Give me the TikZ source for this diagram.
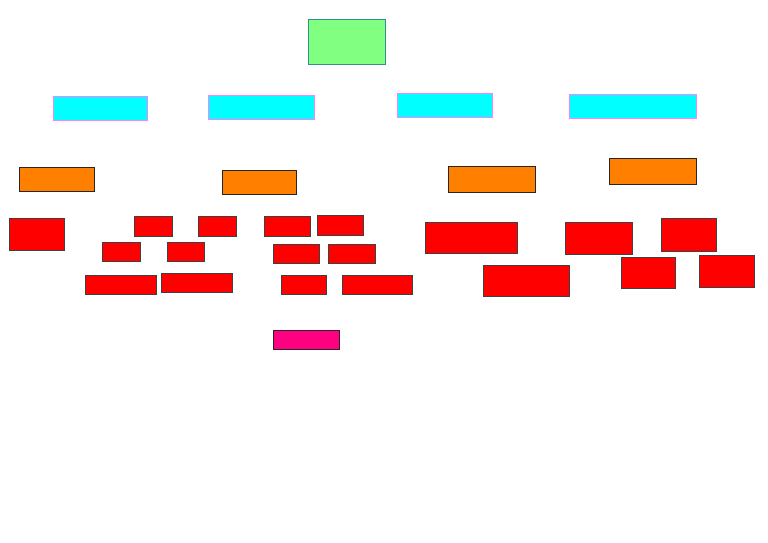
\documentclass[tikz,border=0pt]{standalone}
\usepackage{tikz}
\usetikzlibrary{shapes,positioning}
\definecolor{rootfill}{HTML}{80FF80}
\definecolor{rootline}{HTML}{2E9090}
\definecolor{catfill}{HTML}{00FFFF}
\definecolor{catline}{HTML}{FF80FF}
\definecolor{subfill}{HTML}{FF8000}
\definecolor{leaffill}{HTML}{FF0000}
\definecolor{notefill}{HTML}{FF0080}
\tikzset{
box/.style = {rectangle, inner sep=0pt, outer sep=0pt, anchor=north west, line width=0.9pt},
rootbox/.style = {box, draw=rootline, fill=rootfill},
catbox/.style = {box, draw=catline, fill=catfill},
subbox/.style = {box, draw=black!85, fill=subfill},
leafbox/.style = {box, draw=black!75, fill=leaffill},
notebox/.style = {box, draw=black!85, fill=notefill},
}

\begin{document}
\begin{tikzpicture}[x=1pt, y=-1pt]
    \useasboundingbox (0,0) rectangle (768,543);
    % top
    \node [rootbox, minimum width=77pt, minimum height=45pt] (root) at (308.5,19.5) {};
    % first level
    \node [catbox, minimum width=94pt, minimum height=24pt] (catA) at (53,96.5) {};
    \node [catbox, minimum width=106pt, minimum height=23.5pt] (catB) at (208.5,95.5) {};
    \node [catbox, minimum width=95pt, minimum height=24pt] (catC) at (397.5,93.5) {};
    \node [catbox, minimum width=126.5pt, minimum height=23.5pt] (catD) at (569.5,94.5) {};
    % second level
    \node [subbox, minimum width=74.5pt, minimum height=24.5pt] (subA) at (19.5,167) {};
    \node [subbox, minimum width=74.5pt, minimum height=24.5pt] (subB) at (222,170) {};
    \node [subbox, minimum width=87pt, minimum height=26pt] (subC) at (448,166.7) {};
    \node [subbox, minimum width=87pt, minimum height=26.5pt] (subD) at (609.5,158) {};
    % leaves
    \node [leafbox, minimum width=55pt, minimum height=31.5pt] (leafA) at (9.5,218.7) {};
    \node [leafbox, minimum width=37.5pt, minimum height=19.5pt] (leafB) at (134.8,216.7) {};
    \node [leafbox, minimum width=37.5pt, minimum height=19.5pt] (leafC) at (198.5,216.7) {};
    \node [leafbox, minimum width=37.5pt, minimum height=19.5pt] (leafD) at (102.5,242) {};
    \node [leafbox, minimum width=37.5pt, minimum height=19.5pt] (leafE) at (167,242) {};
    \node [leafbox, minimum width=70.5pt, minimum height=19.5pt] (leafF) at (85.5,275) {};
    \node [leafbox, minimum width=71pt, minimum height=19.5pt] (leafG) at (161,273.3) {};
    \node [leafbox, minimum width=46pt, minimum height=19.5pt] (leafH) at (264,216.7) {};
    \node [leafbox, minimum width=46pt, minimum height=19.5pt] (leafI) at (317.7,215.7) {};
    \node [leafbox, minimum width=46pt, minimum height=19.5pt] (leafJ) at (273,244) {};
    \node [leafbox, minimum width=46.5pt, minimum height=19.5pt] (leafK) at (328.8,244) {};
    \node [leafbox, minimum width=45.5pt, minimum height=19.5pt] (leafL) at (281.3,275) {};
    \node [leafbox, minimum width=70.5pt, minimum height=19.5pt] (leafM) at (342,275) {};
    \node [leafbox, minimum width=91.3pt, minimum height=31.3pt] (leafN) at (425.8,222) {};
    \node [leafbox, minimum width=86pt, minimum height=31.3pt] (leafO) at (483.3,265.3) {};
    \node [leafbox, minimum width=66.7pt, minimum height=31.5pt] (leafP) at (565.3,222.7) {};
    \node [leafbox, minimum width=55pt, minimum height=32.5pt] (leafQ) at (661,218.7) {};
    \node [leafbox, minimum width=54.7pt, minimum height=31.7pt] (leafR) at (621,257) {};
    \node [leafbox, minimum width=55pt, minimum height=32.3pt] (leafS) at (699.3,255) {};
    % bottom
    \node [notebox, minimum width=65.7pt, minimum height=19.3pt] (note) at (273.3,330) {};
\end{tikzpicture}
\end{document}
